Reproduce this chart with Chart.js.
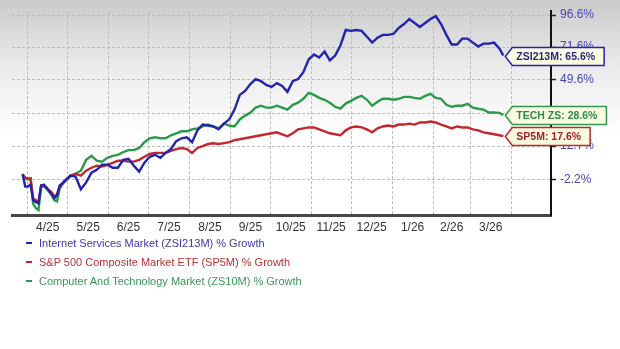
<!DOCTYPE html>
<html>
<head>
<meta charset="utf-8">
<script src="https://cdn.jsdelivr.net/npm/chart.js@4.4.1/dist/chart.umd.min.js"></script>
<style>
  html, body { margin: 0; padding: 0; }
  body {
    width: 620px; height: 349px; overflow: hidden; position: relative;
    background: linear-gradient(to bottom, #cbcbcb 0px, #ececec 70px, #ffffff 135px);
    font-family: "Liberation Sans", Arial, sans-serif;
  }
  #wrap { position: absolute; left: 0; top: 0; width: 620px; height: 349px; }
  #legend { position: absolute; left: 26px; top: 233px; font-size: 11px; }
  .item { height: 19px; display: flex; align-items: center; white-space: nowrap; }
  .swatch { width: 6px; height: 2px; margin-right: 7px; }
</style>
</head>
<body>
<div id="wrap"><canvas id="chart" width="620" height="349"></canvas></div>
<div id="legend"></div>
<script>
// Sample dates (every few days, finer through the early-April selloff)
const dates = [
  '2025-03-28','2025-03-30','2025-04-01','2025-04-03','2025-04-05','2025-04-07','2025-04-09','2025-04-11',
  '2025-04-13','2025-04-15','2025-04-17','2025-04-19','2025-04-21','2025-04-23','2025-04-25',
  '2025-04-29','2025-05-03','2025-05-07','2025-05-11','2025-05-15','2025-05-19','2025-05-23','2025-05-27','2025-05-31',
  '2025-06-04','2025-06-08','2025-06-12','2025-06-16','2025-06-20','2025-06-24','2025-06-28',
  '2025-07-02','2025-07-06','2025-07-10','2025-07-14','2025-07-18','2025-07-22','2025-07-26','2025-07-30',
  '2025-08-03','2025-08-07','2025-08-11','2025-08-15','2025-08-19','2025-08-23','2025-08-27','2025-08-31',
  '2025-09-04','2025-09-08','2025-09-12','2025-09-16','2025-09-20','2025-09-24','2025-09-28',
  '2025-10-02','2025-10-06','2025-10-10','2025-10-14','2025-10-18','2025-10-22','2025-10-26','2025-10-30',
  '2025-11-03','2025-11-07','2025-11-11','2025-11-15','2025-11-19','2025-11-23','2025-11-27',
  '2025-12-01','2025-12-05','2025-12-09','2025-12-13','2025-12-17','2025-12-21','2025-12-25','2025-12-29',
  '2026-01-02','2026-01-06','2026-01-10','2026-01-14','2026-01-18','2026-01-22','2026-01-26','2026-01-30',
  '2026-02-03','2026-02-07','2026-02-11','2026-02-15','2026-02-19','2026-02-23','2026-02-27',
  '2026-03-03','2026-03-07','2026-03-11','2026-03-15','2026-03-19','2026-03-23','2026-03-26'
];

// % growth since start
const internetServices = [
  0.0, -5.1, -5.1, -4.3, -10.5, -11.2, -11.6, -4.7, -4.3, -5.5, -7.0, -8.2, -9.7, -8.6, -4.7,
  -3.0, -0.6, -1.0, -6.2, -3.4, 0.7, 1.9, 4.1, 4.1,
  2.8, 2.8, 6.3, 6.8, 3.7, 1.1, 5.0,
  7.7, 8.6, 7.2, 9.5, 11.3, 15.1, 16.5, 17.0,
  14.6, 20.5, 23.5, 23.0, 22.5, 21.0, 24.0, 26.2,
  31.6, 40.1, 42.5, 46.7, 49.8, 48.5, 46.1,
  44.9, 47.3, 45.5, 41.9, 48.5, 49.8, 54.3, 62.8,
  66.3, 64.2, 68.4, 62.2, 65.6, 72.8, 84.6,
  83.9, 84.6, 83.9, 79.3, 74.9, 78.6, 80.8, 80.8,
  81.5, 86.2, 89.3, 93.4, 90.1, 87.0, 90.1, 93.4,
  95.8, 89.3, 80.8, 73.5, 73.5, 77.9, 77.9,
  74.9, 72.0, 74.2, 74.2, 74.9, 70.6, 65.6
];
const sp500 = [
  0.0, -1.4, -1.8, -1.8, -9.7, -10.5, -11.2, -4.7, -4.7, -5.5, -6.6, -7.4, -9.0, -8.2, -5.1,
  -2.6, -1.0, 0.2, -0.6, 1.5, 2.8, 3.7, 3.3, 4.1,
  5.0, 5.9, 5.9, 5.5, 5.5, 6.3, 7.7,
  9.0, 9.5, 9.5, 9.5, 10.4, 11.3, 11.8, 11.3,
  9.5, 11.8, 12.7, 13.7, 14.1, 13.7, 14.1, 14.6,
  15.6, 16.0, 16.5, 17.0, 17.5, 18.0, 18.5,
  19.0, 19.5, 18.5, 17.5, 19.0, 21.0, 21.5, 22.0,
  22.0, 21.0, 20.0, 19.0, 18.5, 18.0, 20.5,
  22.0, 22.5, 22.0, 21.0, 19.5, 21.5, 22.5, 23.0,
  22.5, 23.5, 23.5, 24.0, 23.5, 24.6, 24.6, 25.1,
  24.6, 23.5, 22.5, 21.5, 22.5, 22.0, 22.0,
  21.0, 20.5, 19.5, 19.0, 18.5, 18.0, 17.6
];
const computerTech = [
  0.0, -1.8, -2.2, -1.8, -11.9, -13.4, -14.1, -5.1, -5.1, -5.9, -7.0, -8.6, -10.5, -10.9, -5.9,
  -2.6, -0.6, 0.2, 1.5, 6.3, 8.1, 5.9, 5.5, 7.2,
  8.1, 8.6, 9.9, 10.8, 10.8, 11.8, 14.6,
  16.5, 17.0, 16.5, 16.5, 18.0, 19.0, 20.0, 20.0,
  21.0, 21.5, 22.5, 23.5, 22.5, 21.5, 24.0, 23.0,
  22.5, 26.2, 28.3, 29.9, 32.7, 33.8, 32.7,
  32.7, 33.8, 32.7, 31.6, 34.3, 35.5, 37.8, 41.3,
  40.1, 38.3, 37.2, 35.5, 33.2, 32.1, 35.0,
  36.6, 38.3, 39.5, 37.2, 33.8, 36.1, 37.8, 37.8,
  37.2, 37.8, 38.9, 38.9, 38.3, 37.8, 39.5, 40.7,
  38.3, 37.8, 34.3, 33.2, 33.8, 33.8, 34.9,
  32.7, 32.1, 31.6, 30.0, 30.0, 29.8, 28.6
];

const seriesNames = [
  'Internet Services Market (ZSI213M) % Growth',
  'S&P 500 Composite Market ETF (SP5M) % Growth',
  'Computer And Technology Market (ZS10M) % Growth'
];
const tagNames = ['ZSI213M', 'SP5M', 'TECH ZS'];

const monthStarts = [
  '2025-04-01','2025-05-01','2025-06-01','2025-07-01','2025-08-01','2025-09-01','2025-10-01',
  '2025-11-01','2025-12-01','2026-01-01','2026-02-01','2026-03-01','2026-04-01'
];
const monthLabels = ['4/25','5/25','6/25','7/25','8/25','9/25','10/25','11/25','12/25','1/26','2/26','3/26'];
const yTickValues = [-2.2, 12.7, 29.4, 49.6, 71.6, 96.6];

// ---- helpers ----
const origin = Date.parse('2025-04-01');
const dayOf = s => Math.round((Date.parse(s) - origin) / 86400000);
const days = dates.map(dayOf);
const monthDays = monthStarts.map(dayOf);
const monthMids = monthLabels.map((_, i) => (monthDays[i] + monthDays[i + 1]) / 2);

// growth % -> index level, plotted on a log axis
const toLevel = v => 100 + v;
const toPoints = arr => arr.map((v, i) => ({ x: days[i], y: toLevel(v) }));

const colors = ['#2323b0', '#c1272d', '#2c9a4b'];
const textColors = ['#3a3aac', '#b53434', '#3a9656'];
const tagTextColors = ['#27277e', '#a51f24', '#2c8a47'];
const values = [internetServices, sp500, computerTech];

const endTags = {
  id: 'endTags',
  afterDraw(chart) {
    const ctx = chart.ctx;
    chart.data.datasets.forEach((ds, i) => {
      const meta = chart.getDatasetMeta(i);
      const pt = meta.data[meta.data.length - 1];
      const series = values[i];
      const text = tagNames[i] + ': ' + series[series.length - 1].toFixed(1) + '%';
      ctx.save();
      ctx.font = 'bold 10.5px "Liberation Sans", Arial, sans-serif';
      const tw = ctx.measureText(text).width;
      const h = 18, notch = 7;
      const x0 = pt.x + 2, x1 = x0 + notch, x2 = x0 + tw + 20;
      const yT = Math.round(pt.y - h / 2) + 0.5, yB = yT + h;
      const yc = (yT + yB) / 2;
      ctx.beginPath();
      ctx.moveTo(x0, yc);
      ctx.lineTo(x1, yT);
      ctx.lineTo(x2, yT);
      ctx.lineTo(x2, yB);
      ctx.lineTo(x1, yB);
      ctx.closePath();
      ctx.fillStyle = '#fbfbe1';
      ctx.fill();
      ctx.lineWidth = 1.5;
      ctx.strokeStyle = colors[i];
      ctx.stroke();
      ctx.fillStyle = tagTextColors[i];
      ctx.textAlign = 'center';
      ctx.textBaseline = 'middle';
      ctx.fillText(text, (x0 + x2) / 2 + 1, yc + 0.5);
      ctx.restore();
    });
  }
};

const chart = new Chart(document.getElementById('chart'), {
  type: 'line',
  data: {
    datasets: values.map((arr, i) => ({
      label: seriesNames[i],
      data: toPoints(arr),
      borderColor: colors[i],
      borderWidth: 2.4,
      pointRadius: 0,
      tension: 0,
      fill: false,
      xAxisID: 'x',
      yAxisID: 'y'
    }))
  },
  options: {
    responsive: false,
    animation: false,
    devicePixelRatio: 1,
    layout: { padding: { left: 12, top: 8, right: 0, bottom: 110 } },
    plugins: { legend: { display: false }, tooltip: { enabled: false } },
    scales: {
      x: {
        type: 'linear',
        position: 'bottom',
        weight: 0,
        min: -12,
        max: 395,
        afterBuildTicks: s => { s.ticks = monthDays.map(v => ({ value: v })); },
        afterFit: s => { s.height = 0; },
        ticks: { display: false },
        grid: { color: '#bdbdbd', lineWidth: 1, drawTicks: false },
        border: { display: true, color: '#474747', width: 3, dash: [3, 2] }
      },
      xLabels: {
        type: 'linear',
        position: 'bottom',
        weight: 1,
        min: -12,
        max: 395,
        afterBuildTicks: s => { s.ticks = monthMids.map(v => ({ value: v })); },
        afterFit: s => { s.height = 24; },
        grid: { display: false, drawTicks: false },
        border: { display: false },
        ticks: {
          autoSkip: false,
          maxRotation: 0,
          padding: 5,
          color: '#333333',
          font: { family: '"Liberation Sans", Arial, sans-serif', size: 12 },
          callback: (v, i) => monthLabels[i]
        }
      },
      y: {
        type: 'logarithmic',
        position: 'right',
        min: 84.1,
        max: 199.9,
        afterBuildTicks: s => { s.ticks = yTickValues.map(v => ({ value: toLevel(v) })); },
        afterFit: s => { s.width = 69; },
        ticks: {
          autoSkip: false,
          padding: 4,
          color: '#4545b5',
          font: { family: '"Liberation Sans", Arial, sans-serif', size: 12 },
          callback: (v, i) => yTickValues[i].toFixed(1) + '%'
        },
        grid: { color: '#bdbdbd', lineWidth: 1, drawTicks: true, tickLength: 5, tickColor: '#222222', tickWidth: 1.5 },
        border: { display: true, color: '#111111', width: 2, dash: [3, 2] }
      }
    }
  },
  plugins: [endTags]
});

// Legend
const legend = document.getElementById('legend');
seriesNames.forEach((name, i) => {
  const row = document.createElement('div');
  row.className = 'item';
  const sw = document.createElement('span');
  sw.className = 'swatch';
  sw.style.background = colors[i];
  const label = document.createElement('span');
  label.textContent = name;
  label.style.color = textColors[i];
  row.appendChild(sw);
  row.appendChild(label);
  legend.appendChild(row);
});
</script>
</body>
</html>
